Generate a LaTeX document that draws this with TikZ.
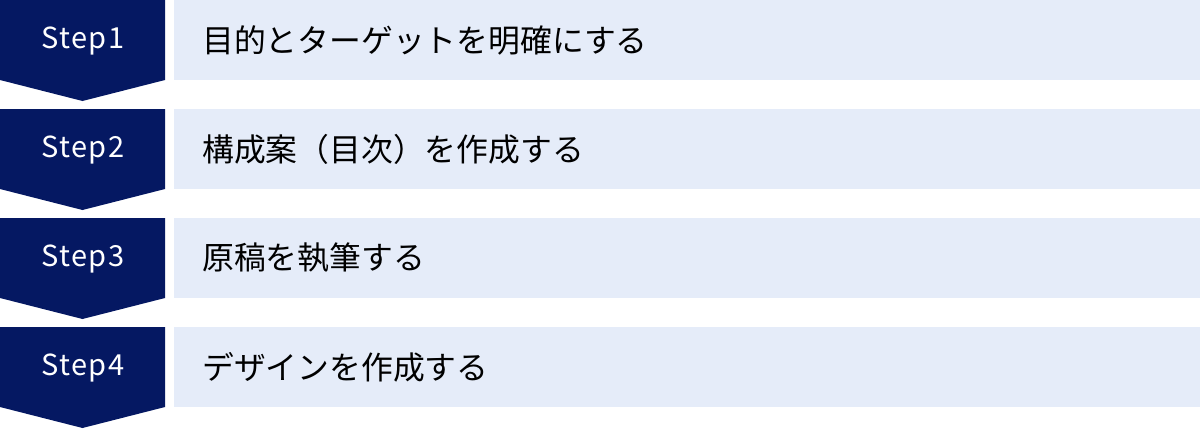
\documentclass[tikz,border=0pt]{standalone}
\usepackage{fontspec}
\setmainfont{Noto Sans CJK JP}
\definecolor{navy}{HTML}{051862}
\definecolor{pale}{HTML}{E5ECF9}
\tikzset{
  stepshape/.style={fill=navy},
  steplabel/.style={text=white, inner sep=0pt, font=\fontsize{29}{29}\selectfont\addfontfeatures{LetterSpace=5}},
  barbox/.style={fill=pale},
  bartext/.style={anchor=west, inner sep=0pt, text=black, font=\fontsize{31.8}{31.8}\selectfont},
}
\begin{document}
\begin{tikzpicture}[x=1pt,y=-1pt]
\useasboundingbox (0,0) rectangle (1200,429);
\foreach \n/\t in {1/目的とターゲットを明確にする, 2/構成案（目次）を作成する, 3/原稿を執筆する, 4/デザインを作成する}{
  \pgfmathsetmacro{\o}{109*(\n-1)}
  \fill[stepshape] (0,\o) -- (165,\o) -- (165,\o+80) -- (82.5,\o+101) -- (0,\o+80) -- cycle;
  \fill[barbox] (174,\o) rectangle (1200,\o+80);
  \node[steplabel] (s\n) at (83,\o+41) {Step\n};
  \node[bartext] (t\n) at (202,\o+40) {\t};
}
\end{tikzpicture}
\end{document}
